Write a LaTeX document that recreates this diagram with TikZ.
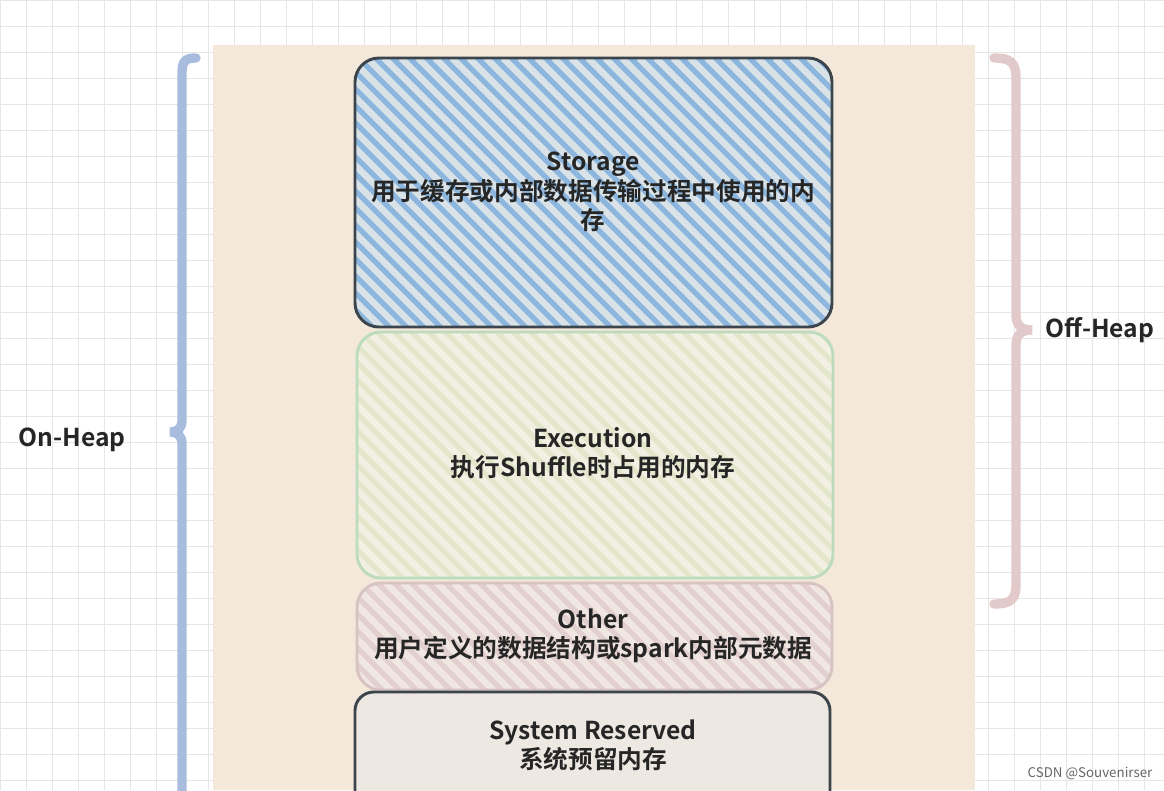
\documentclass[tikz,border=0pt]{standalone}
\usepackage{fontspec}
\setmainfont{Liberation Sans}
\newfontfamily\cjk{Noto Sans CJK SC}[BoldFont={* Bold}]
\definecolor{gridc}{HTML}{E6E6E6}
\definecolor{beige}{HTML}{F3E8DA}
\definecolor{bluebr}{HTML}{A8BCDD}
\definecolor{pinkbr}{HTML}{E2CACA}
\definecolor{stA}{HTML}{8DB6DF}
\definecolor{stB}{HTML}{D9E2E6}
\definecolor{exA}{HTML}{E4E6CC}
\definecolor{exB}{HTML}{F2F0E2}
\definecolor{otA}{HTML}{E2CFCF}
\definecolor{otB}{HTML}{F0E6E2}
\definecolor{dark}{HTML}{3C444C}
\tikzset{
  lbl/.style={font=\bfseries\cjk\fontsize{18.5}{22}\selectfont, text=black!85, align=center},
  brace/.style={line width=7pt, line cap=round},
}
\newcommand{\hatchbox}[7]{% x1 y1 x2 y2 colorA colorB border
  \begin{scope}
    \clip[rounded corners=18] (#1,#2) rectangle (#3,#4);
    \fill[#5] (#1,#2) rectangle (#3,#4);
    \foreach \k in {-600,-583,...,600} {
      \draw[#6, line width=5pt] ({#1+\k},#2) -- ({#1+\k+400},{#2+400});
    }
  \end{scope}
  \draw[#7, line width=2.2pt, rounded corners=18] (#1,#2) rectangle (#3,#4);
}
\begin{document}
\begin{tikzpicture}[x=0.75pt,y=-0.75pt]
\useasboundingbox (0,0) rectangle (1164,790);
\fill[white] (0,0) rectangle (1164,790);
\foreach \i in {0,26,...,1164} \draw[gridc,line width=0.6pt] (\i,0) -- (\i,790);
\foreach \i in {0,26,...,790} \draw[gridc,line width=0.6pt] (0,\i) -- (1164,\i);
\fill[beige] (213,45) rectangle (975,790);

% braces
\draw[bluebr, brace] (196,58) .. controls (184,58) and (182,62) .. (182,75) -- (182,420) .. controls (182,428) and (178,432) .. (170,432)
  .. controls (178,432) and (182,436) .. (182,444) -- (182,800);
\draw[pinkbr, brace] (994,58) .. controls (1010,58) and (1016,62) .. (1016,78) -- (1016,315) .. controls (1016,324) and (1020,330) .. (1032,330)
  .. controls (1020,330) and (1016,336) .. (1016,345) -- (1016,585) .. controls (1016,600) and (1010,604) .. (994,604);
\node[lbl] (on) at (72,440) {On-Heap};
\node[lbl] (off) at (1100,330) {Off-Heap};

% boxes
\hatchbox{355}{58}{832}{327}{stA}{stB}{dark}
\hatchbox{357}{332}{833}{578}{exA}{exB}{green!30!gray!40}
\hatchbox{357}{583}{832}{690}{otA}{otB}{pinkbr!90!gray}
\fill[gray!15!beige!60!white] [rounded corners=14] (355,692) rectangle (830,810);
\draw[dark, line width=2.2pt, rounded corners=14] (355,692) rectangle (830,810);

\node[lbl] (st) at (593,192) {Storage\\用于缓存或内部数据传输过程中使用的内\\存};
\node[lbl] (ex) at (593,453) {Execution\\执行Shuffle时占用的内存};
\node[lbl] (ot) at (593,636) {Other\\用户定义的数据结构或spark内部元数据};
\node[lbl] (sy) at (593,745) {System Reserved\\系统预留内存};
\node[font=\cjk\fontsize{10}{12}\selectfont, text=gray!80!black] (wm) at (1090,773) {CSDN @Souvenirser};
\end{tikzpicture}
\end{document}
